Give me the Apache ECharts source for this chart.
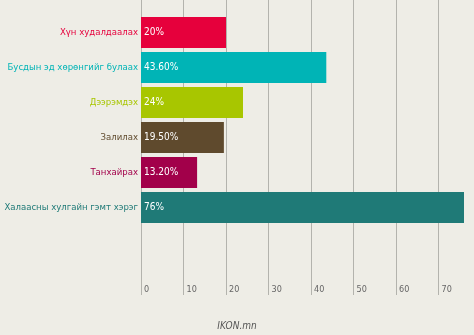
<!DOCTYPE html>
<html>
<head>
<meta charset="utf-8">
<script src="https://cdn.jsdelivr.net/npm/echarts@6/dist/echarts.min.js"></script>
<style>
  html, body { margin: 0; padding: 0; background: #eeede6; }
  #chart { width: 474px; height: 335px; }
</style>
</head>
<body>
<div id="chart"></div>
<script>
// Crime categories and their shares (%)
const categories = [
  'Хүн худалдаалах',
  'Бусдын эд хөрөнгийг булаах',
  'Дээрэмдэх',
  'Залилах',
  'Танхайрах',
  'Халаасны хулгайн гэмт хэрэг'
];
const values = [20, 43.6, 24, 19.5, 13.2, 76];
const colors = ['#e6003c', '#00b4b6', '#a8c600', '#5f4a2d', '#a2004a', '#1f7a77'];
const xTicks = [0, 10, 20, 30, 40, 50, 60, 70];
const footer = 'IKON.mn';

const FONT = "'DejaVu Sans Condensed', 'DejaVu Sans', sans-serif";

function pct(v) {
  return (Number.isInteger(v) ? String(v) : v.toFixed(2)) + '%';
}

const chart = echarts.init(document.getElementById('chart'), null, { renderer: 'canvas' });

chart.setOption({
  backgroundColor: '#eeede6',
  animation: false,
  grid: [
    // full-height grid carrying the vertical rules and tick labels
    { left: 141, width: 340, top: 0, bottom: 40, outerBoundsMode: 'none', containLabel: false },
    // bar grid: eight rows, the last two left empty
    { left: 141, width: 340, top: 15, bottom: 40, outerBoundsMode: 'none', containLabel: false }
  ],
  xAxis: [
    {
      gridIndex: 0, type: 'value', min: 0, max: 80, interval: 10,
      axisLine: { show: false }, axisTick: { show: false },
      splitLine: { show: true, lineStyle: { color: '#b3b3ad', width: 1 } },
      axisLabel: {
        margin: -1, verticalAlign: 'bottom', align: 'left', padding: [0, 0, 0, 3],
        color: '#666', fontSize: 9, fontFamily: FONT,
        formatter: v => (xTicks.indexOf(v) >= 0 ? String(v) : '')
      }
    },
    {
      gridIndex: 1, type: 'value', min: 0, max: 80,
      show: false
    }
  ],
  yAxis: [
    { gridIndex: 0, type: 'value', show: false },
    {
      gridIndex: 1, type: 'category', data: categories, inverse: true,
      min: 0, max: 7,
      axisLine: { show: false }, axisTick: { show: false },
      splitLine: { show: false },
      axisLabel: {
        margin: 3, fontSize: 9.5, fontFamily: FONT,
        color: function (val) { return colors[categories.indexOf(val)] || '#333'; }
      }
    }
  ],
  series: [
    {
      type: 'bar', xAxisIndex: 1, yAxisIndex: 1,
      barWidth: 31,
      data: values.map((v, i) => ({ value: v, itemStyle: { color: colors[i] } })),
      label: {
        show: true, position: 'insideLeft', distance: 3,
        color: '#fff', fontSize: 10, fontFamily: FONT,
        formatter: p => pct(p.value)
      }
    }
  ],
  graphic: [
    {
      type: 'text', left: 'center', top: 321,
      style: { text: footer, fill: '#555', font: 'italic 10px ' + FONT }
    }
  ]
});
</script>
</body>
</html>
